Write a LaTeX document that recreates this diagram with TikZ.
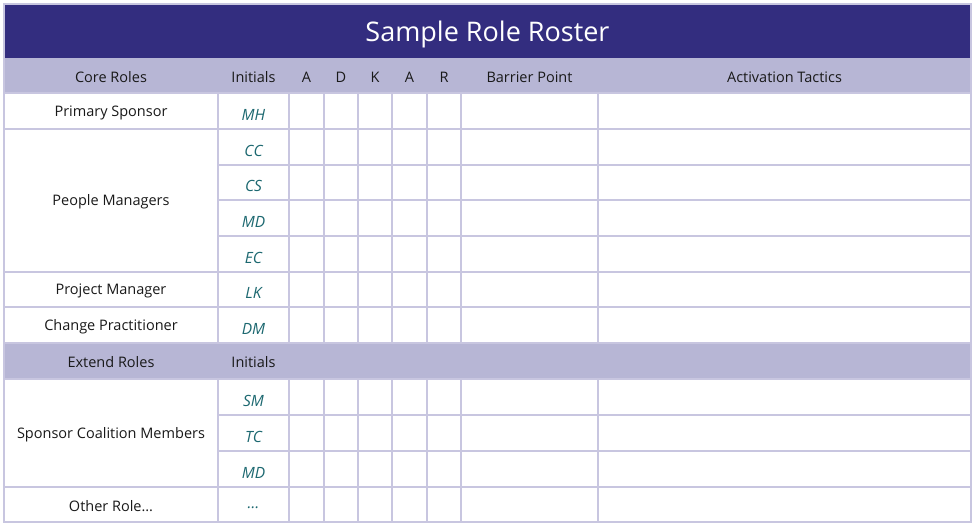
\documentclass[tikz,border=0pt]{standalone}
\usepackage{fontspec}
\setmainfont{Open Sans}
\usetikzlibrary{calc}
\definecolor{rosterblue}{RGB}{51,45,127}
\definecolor{rosterhead}{RGB}{183,182,213}
\definecolor{rostergrid}{RGB}{200,198,224}
\definecolor{rosterink}{RGB}{28,104,112}
\begin{document}
\begin{tikzpicture}[x=1pt,y=-1pt,
  gridline/.style={rostergrid, line width=1.3pt},
  celltext/.style={font=\fontsize{14.5}{16}\selectfont, text=black!90, inner sep=0, yshift=-1.5},
  inittext/.style={font=\itshape\fontsize{15.5}{17}\selectfont, text=rosterink, inner sep=0, yshift=-3.5}]
\useasboundingbox (0,0) rectangle (975,529);
\fill[white] (0,0) rectangle (975,529);
\fill[rosterblue] (4,4) rectangle (971,58);
\fill[rosterhead] (4,58) rectangle (971,93);
\fill[rosterhead] (4,343) rectangle (971,379);
\foreach \y in {93,129,272,307,343,379,487}
 \draw[gridline] (4,\y) -- (971,\y);
\foreach \y in {165,200,236,415,451}
 \draw[gridline] (218,\y) -- (971,\y);
\foreach \x in {218,289,324,358,392,427,461,598} {
 \draw[gridline] (\x,93) -- (\x,343);
 \draw[gridline] (\x,379) -- (\x,522);
}
\draw[gridline] (4,4) rectangle (971,522);
\node[text=white, font=\fontsize{27}{30}\selectfont] (title) at (487.5,34) {Sample Role Roster};
\node[celltext] (core) at (111,76) {Core Roles};
\node[celltext] (init) at (253.5,76) {Initials};
\foreach \x/\t [count=\i] in {306.5/A, 341/D, 375/K, 409.5/A, 444/R}
 \node[celltext] (adkar\i) at (\x,76) {\t};
\node[celltext] (barrier) at (529.5,76) {Barrier Point};
\node[celltext] (tactics) at (784.5,76) {Activation Tactics};
\node[celltext] (sponsor) at (111,111) {Primary Sponsor};
\node[celltext] (managers) at (111,200.5) {People Managers};
\node[celltext] (project) at (111,289.5) {Project Manager};
\node[celltext] (practitioner) at (111,325) {Change Practitioner};
\node[celltext] (extend) at (111,361) {Extend Roles};
\node[celltext] (extinit) at (253.5,361) {Initials};
\node[celltext] (coalition) at (111,433) {Sponsor Coalition Members};
\node[celltext] (other) at (111,504.5) {Other Role\ldots};
\foreach \y/\t [count=\i] in {111/MH, 147/CC, 182.5/CS, 218/MD, 254/EC, 289.5/LK, 325/DM, 397/SM, 433/TC, 469/MD}
 \node[inittext] (initials\i) at (253.5,\y) {\t};
\node[inittext] (initials11) at (253.5,504.5) {\ldots};
\end{tikzpicture}
\end{document}
